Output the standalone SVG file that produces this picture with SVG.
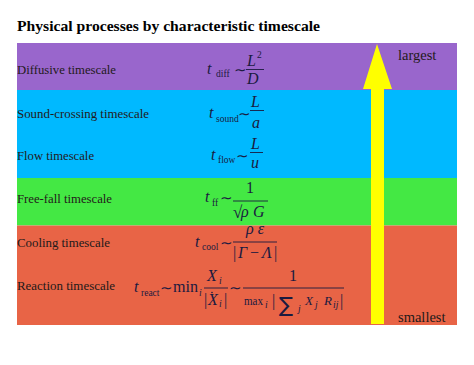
<svg xmlns="http://www.w3.org/2000/svg" width="474" height="365" viewBox="0 0 474 365">
<style>
.title{font-family:"Liberation Serif","Times New Roman",serif;font-weight:bold;font-size:15px;fill:#000}
.lbl{font-family:"Liberation Serif","Times New Roman",serif;font-size:13.5px;fill:#231a1a}
.m{font-family:"Liberation Serif","Times New Roman",serif;font-size:16px;fill:#1a1a40}
.mi{font-family:"Liberation Serif","Times New Roman",serif;font-size:16px;font-style:italic;fill:#1a1a40}
.s{font-family:"Liberation Serif","Times New Roman",serif;font-size:9.5px;fill:#1a1a40}
.si{font-family:"Liberation Serif","Times New Roman",serif;font-size:9.5px;font-style:italic;fill:#1a1a40}
.tl{font-family:"DejaVu Sans",sans-serif;font-size:15px;fill:#1a1a40}
.fl{stroke:#1a1a40;stroke-width:0.9}
.end{font-family:"Liberation Serif","Times New Roman",serif;font-size:14.5px;fill:#231a1a}
</style>
<rect width="474" height="365" fill="#fff"/>
<text class="title" x="17" y="31" textLength="303" lengthAdjust="spacingAndGlyphs">Physical processes by characteristic timescale</text>

<g id="band-diffusive">
<rect x="17" y="43" width="440" height="47" fill="#9966cc"/>
<text class="lbl" x="17" y="74" textLength="99" lengthAdjust="spacingAndGlyphs">Diffusive timescale</text>
<text class="mi" x="207" y="74">t</text><text class="s" x="216" y="77">diff</text>
<text class="tl" x="234" y="75">∼</text>
<text class="mi" x="247" y="66">L</text><text class="s" x="257" y="58">2</text>
<line class="fl" x1="246" y1="69.5" x2="264" y2="69.5"/>
<text class="mi" x="247" y="84">D</text>
</g>

<g id="band-sound">
<rect x="17" y="90" width="440" height="45" fill="#00b9ff"/>
<text class="lbl" x="17" y="118" textLength="132" lengthAdjust="spacingAndGlyphs">Sound-crossing timescale</text>
<text class="mi" x="209" y="118">t</text><text class="s" x="216" y="122">sound</text>
<text class="tl" x="238" y="119">∼</text>
<text class="mi" x="251" y="107">L</text>
<line class="fl" x1="250" y1="110.5" x2="264" y2="110.5"/>
<text class="mi" x="252" y="128">a</text>
</g>

<g id="band-flow">
<rect x="17" y="134.5" width="440" height="43.5" fill="#00b9ff"/>
<text class="lbl" x="17" y="160" textLength="77" lengthAdjust="spacingAndGlyphs">Flow timescale</text>
<text class="mi" x="211" y="160">t</text><text class="s" x="218" y="163">flow</text>
<text class="tl" x="236" y="161">∼</text>
<text class="mi" x="251" y="149">L</text>
<line class="fl" x1="250" y1="152.5" x2="263" y2="152.5"/>
<text class="mi" x="251" y="168">u</text>
</g>

<g id="band-freefall">
<rect x="17" y="178" width="440" height="47.5" fill="#44e844"/>
<text class="lbl" x="17" y="203" textLength="95" lengthAdjust="spacingAndGlyphs">Free-fall timescale</text>
<text class="mi" x="205" y="202">t</text><text class="s" x="212" y="206">ff</text>
<text class="tl" x="220" y="203">∼</text>
<text class="m" x="250" y="193" text-anchor="middle">1</text>
<line class="fl" x1="233" y1="201" x2="268" y2="201"/>
<text class="m" x="233" y="218" style="font-size:17px">√</text>
<text class="mi" x="241" y="217">ρ</text>
<text class="mi" x="253" y="217">G</text>
</g>

<g id="band-cooling">
<rect x="17" y="225.5" width="440" height="99.5" fill="#e86446"/>
<text class="lbl" x="17" y="247" textLength="93" lengthAdjust="spacingAndGlyphs">Cooling timescale</text>
<text class="mi" x="195" y="247">t</text><text class="s" x="202" y="250">cool</text>
<text class="tl" x="220" y="248">∼</text>
<text class="mi" x="255" y="234" text-anchor="middle">ρ ε</text>
<line class="fl" x1="233" y1="242" x2="277" y2="242"/>
<text class="m" x="233" y="258">|</text>
<text class="mi" x="238" y="258">Γ</text>
<text class="m" x="250" y="258">−</text>
<text class="mi" x="262" y="258">Λ</text>
<text class="m" x="274" y="258">|</text>
</g>

<g id="band-reaction">
<text class="lbl" x="17" y="290" textLength="98" lengthAdjust="spacingAndGlyphs">Reaction timescale</text>
<text class="mi" x="134" y="292">t</text><text class="s" x="141" y="296">react</text>
<text class="tl" x="160" y="293">∼</text>
<text class="m" x="173" y="292" textLength="25" lengthAdjust="spacingAndGlyphs">min</text>
<text class="si" x="199" y="296">i</text>
<text class="mi" x="207" y="281">X</text><text class="si" x="219" y="284">i</text>
<line class="fl" x1="204" y1="288" x2="228" y2="288"/>
<text class="m" x="204" y="305">|</text>
<text class="mi" x="208" y="305">X</text>
<circle cx="212" cy="292.5" r="0.8" fill="#1a1a40"/>
<text class="si" x="219" y="307">i</text>
<text class="m" x="224" y="305">|</text>
<text class="tl" x="229" y="293">∼</text>
<text class="m" x="293" y="281" text-anchor="middle">1</text>
<line class="fl" x1="243" y1="288" x2="344" y2="288"/>
<text class="m" x="244" y="305" style="font-size:12px" textLength="19" lengthAdjust="spacingAndGlyphs">max</text>
<text class="si" x="265" y="308">i</text>
<text class="m" x="272" y="306">|</text>
<text x="279" y="312" style="font-family:'DejaVu Sans',sans-serif;font-size:21px;fill:#1a1a40">∑</text>
<text class="si" x="298" y="312">j</text>
<text class="mi" x="305" y="305" style="font-size:13px">X</text>
<text class="si" x="315" y="308">j</text>
<text class="mi" x="324" y="305" style="font-size:13px">R</text>
<text class="si" x="333" y="308">ij</text>
<text class="m" x="340" y="306">|</text>
</g>

<g id="arrow">
<polygon points="377,44 392,89 384,89 384,324 371,324 371,89 363,89" fill="#ffff00"/>
<text class="end" x="398" y="60">largest</text>
<text class="end" x="398" y="322">smallest</text>
</g>
</svg>
